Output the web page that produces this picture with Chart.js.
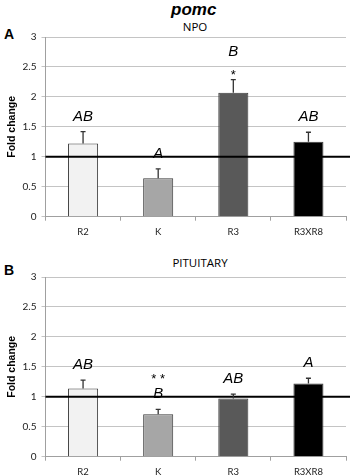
<!DOCTYPE html>
<html>
<head>
<meta charset="utf-8">
<script src="https://cdn.jsdelivr.net/npm/chart.js@4"></script>
<style>
  html, body { margin: 0; padding: 0; background: #fff; overflow: hidden; }
  body { width: 350px; height: 475px; position: relative; font-family: Lato, 'Liberation Sans', sans-serif; }
  .box { position: absolute; left: 0; width: 350px; }
  .txt { position: absolute; color: #000; white-space: nowrap; }
  .gene { left: 171px; top: 0; font: italic bold 17px 'Liberation Sans', Arial, sans-serif; }
  .sub { font: 11.5px 'Open Sans', Lato, sans-serif; transform: translateX(-50%); }
  .panel { left: 4px; font: bold 14px 'Liberation Sans', Arial, sans-serif; }
</style>
</head>
<body>
<div class="txt gene">pomc</div>
<div class="txt sub" style="left:195px; top:19px;">NPO</div>
<div class="txt panel" style="top:26px;">A</div>
<div class="txt sub" style="left:200px; top:255px;">PITUITARY</div>
<div class="txt panel" style="top:262px;">B</div>

<div class="box" style="top:0; height:240px;"><canvas id="npo" width="350" height="240"></canvas></div>
<div class="box" style="top:240px; height:235px;"><canvas id="pit" width="350" height="235"></canvas></div>

<script>
// categories and colours of the four groups
const groups = ['R2', 'K', 'R3', 'R3XR8'];
const barColors = ['#f2f2f2', '#a6a6a6', '#595959', '#000000'];
const yTicks = [0, 0.5, 1, 1.5, 2, 2.5, 3];

// NPO (panel A)
const npoMean = [1.22, 0.64, 2.07, 1.25];
const npoSem = [0.20, 0.16, 0.22, 0.16];
const npoNotes = [['AB'], ['A'], ['B', '*'], ['AB']];

// Pituitary (panel B)
const pitMean = [1.14, 0.71, 0.97, 1.22];
const pitSem = [0.14, 0.08, 0.075, 0.09];
const pitNotes = [['AB'], ['**', 'B'], ['AB'], ['A']];

// reference line at 1, error bars and significance letters
const sigPlugin = {
    id: 'sig',
    afterDatasetsDraw(chart, args, opts) {
        const ctx = chart.ctx;
        const area = chart.chartArea;
        const y = chart.scales.y;
        const meta = chart.getDatasetMeta(0);
        ctx.save();

        const y1 = y.getPixelForValue(1);
        ctx.strokeStyle = '#000';
        ctx.lineWidth = 2;
        ctx.beginPath();
        ctx.moveTo(area.left, y1);
        ctx.lineTo(chart.width, y1);
        ctx.stroke();

        opts.mean.forEach((v, i) => {
            const bx = meta.data[i].x;
            const yb = y.getPixelForValue(v);
            const yt = y.getPixelForValue(v + opts.sem[i]);
            ctx.strokeStyle = '#333';
            ctx.lineWidth = 1.3;
            ctx.beginPath();
            ctx.moveTo(bx, yb);
            ctx.lineTo(bx, yt);
            ctx.moveTo(bx - 2.5, yt);
            ctx.lineTo(bx + 2.5, yt);
            ctx.stroke();

            // notes, drawn bottom-up
            ctx.fillStyle = '#000';
            ctx.textAlign = 'center';
            ctx.textBaseline = 'alphabetic';
            let cur = yt - 6;
            const lines = opts.notes[i].slice().reverse();
            lines.forEach(t => {
                if (t.indexOf('*') >= 0) {
                    ctx.font = '13px "Liberation Sans", Arial, sans-serif';
                    const base = cur + 5;
                    ctx.fillText(t.split('').join(' '), bx, base);
                    cur = base - 18;
                } else {
                    ctx.font = 'italic 15px "Liberation Sans", Arial, sans-serif';
                    const base = cur - 5;
                    ctx.fillText(t, bx, base);
                    cur = base - 20;
                }
            });
        });
        ctx.restore();
    }
};

function makeChart(id, mean, sem, notes, canvasH) {
    return new Chart(document.getElementById(id), {
        type: 'bar',
        data: {
            labels: groups,
            datasets: [{
                data: mean,
                backgroundColor: barColors,
                borderColor: '#3a3a3a',
                borderWidth: 1,
                barPercentage: 0.4,
                categoryPercentage: 1
            }]
        },
        options: {
            responsive: false,
            animation: false,
            devicePixelRatio: 1,
            layout: { padding: { top: 37, right: 4, left: 0, bottom: 0 } },
            plugins: {
                legend: { display: false },
                tooltip: { enabled: false },
                sig: { mean: mean, sem: sem, notes: notes }
            },
            scales: {
                x: {
                    afterFit: s => { s.height = canvasH - 216.7; },
                    grid: { drawOnChartArea: false, offset: true, tickLength: 4, color: '#a0a0a0' },
                    border: { color: '#a0a0a0' },
                    ticks: { color: '#222', padding: 6, font: { family: 'Lato', size: 9.5 } }
                },
                y: {
                    min: 0,
                    max: 3,
                    afterFit: s => { s.width = 45.5; },
                    afterBuildTicks: s => { s.ticks = yTicks.map(v => ({ value: v })); },
                    grid: { color: '#c4c4c4', tickLength: 4 },
                    border: { color: '#a0a0a0' },
                    ticks: { color: '#222', padding: 5, font: { family: 'Lato', size: 10 },
                             callback: v => String(v) },
                    title: { display: true, text: 'Fold change', color: '#000', padding: { top: 6, bottom: 0 },
                             font: { family: 'Liberation Sans', size: 10.5, weight: 'bold' } }
                }
            }
        },
        plugins: [sigPlugin]
    });
}

makeChart('npo', npoMean, npoSem, npoNotes, 240);
makeChart('pit', pitMean, pitSem, pitNotes, 235);
</script>
</body>
</html>
